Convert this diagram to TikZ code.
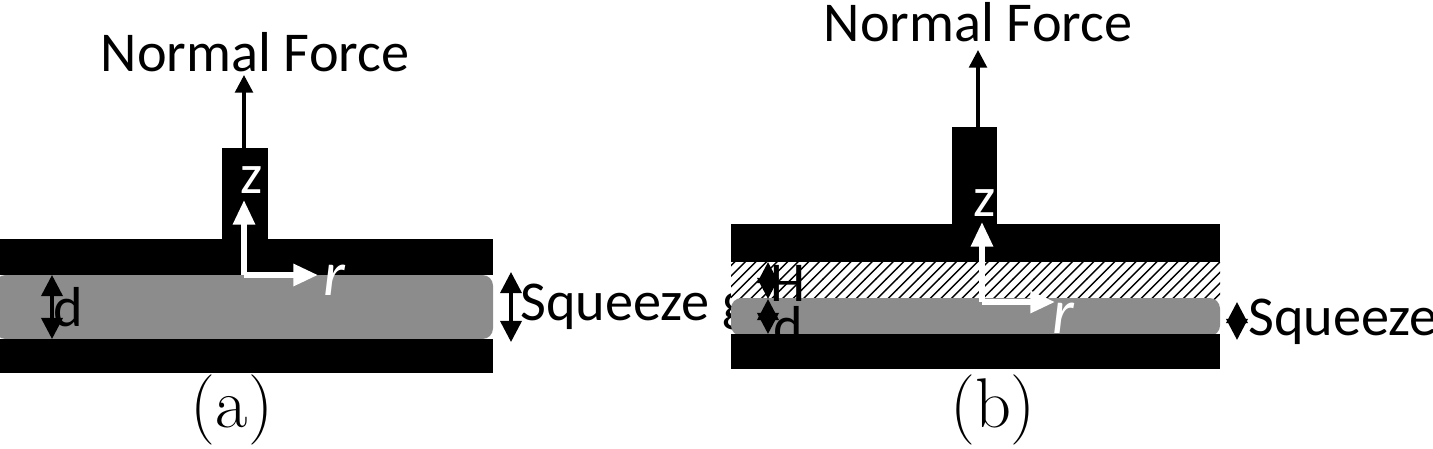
\documentclass[tikz,border=0pt]{standalone}
\usepackage{fontspec}
\newfontfamily\carl{Carlito}
\usetikzlibrary{arrows.meta,patterns}
\begin{document}
\begin{tikzpicture}[x=0.01cm,y=-0.01cm,
 plate/.style={fill=black,draw=none},
 fluid/.style={fill=black!45,draw=none,rounded corners=3pt},
 blk/.style={-{Triangle[width=5pt,length=5pt]},line width=1pt},
 wht/.style={-{Triangle[width=6pt,length=7pt]},line width=1.6pt,white},
 dim/.style={{Triangle[width=6pt,length=6pt]}-{Triangle[width=6pt,length=6pt]},line width=1pt},
 lbl/.style={font=\carl\fontsize{16}{18}\selectfont,inner sep=1pt},
 wlbl/.style={lbl,text=white,font=\carl\itshape\fontsize{18}{20}\selectfont},
 subcap/.style={font=\fontsize{20}{24}\selectfont}]
\useasboundingbox (0,0) rectangle (1433,448);
% panel a
\fill[fluid] (-5,275) rectangle (493,339);
\fill[plate] (0,239) rectangle (493,275);
\fill[plate] (222,148) rectangle (268,239);
\fill[plate] (0,339) rectangle (493,373);
\coordinate (a0) at (244,275);
\coordinate (af) at (244,148);
\node[lbl] (anf) at (255,52) {Normal Force};
\draw[blk] (af) -- (244,75);
\coordinate (az) at (244,200);
\coordinate (ar) at (318,275);
\draw[wht] (a0) -- (az);
\draw[wht] (a0) -- (ar);
\node[lbl,text=white] (azl) at (252,180) {z};
\node[wlbl] (arl) at (334,280) {r};
\coordinate (ad1) at (52,275); \coordinate (ad2) at (52,339);
\draw[dim] (ad1) -- (ad2);
\node[lbl] (adl) at (68,307) {d};
\coordinate (as1) at (511,272); \coordinate (as2) at (511,342);
\draw[dim] (as1) -- (as2);
\node[lbl,anchor=west] (asl) at (516,307) {Squeeze gap};
\node[subcap] (capa) at (232,410) {(a)};
% panel b
\fill[white] (731,262) rectangle (1220,299);
\fill[pattern=north east lines] (731,262) rectangle (1220,299);
\fill[fluid] (731,298) rectangle (1220,336);
\fill[plate] (731,224) rectangle (1220,262);
\fill[plate] (952,127) rectangle (997,224);
\fill[plate] (731,334) rectangle (1220,369);
\coordinate (b0) at (982,302);
\coordinate (bf) at (978,127);
\node[lbl] (bnf) at (978,22) {Normal Force};
\draw[blk] (bf) -- (978,50);
\coordinate (bz) at (982,222);
\coordinate (br) at (1055,302);
\draw[wht] (b0) -- (bz);
\draw[wht] (b0) -- (br);
\node[lbl,text=white] (bzl) at (985,203) {z};
\node[wlbl] (brl) at (1063,318) {r};
\coordinate (bh1) at (768,262); \coordinate (bh2) at (768,299); \coordinate (bh3) at (768,334);
\draw[dim] (bh1) -- (bh2);
\draw[dim] (bh2) -- (bh3);
\node[lbl] (bhl) at (788,283) {H};
\node[lbl] (bdl) at (788,326) {d};
\coordinate (bs1) at (1237,302); \coordinate (bs2) at (1237,340);
\draw[dim] (bs1) -- (bs2);
\node[lbl,anchor=west] (bsl) at (1244,322) {Squeeze gap};
\node[subcap] (capb) at (993,410) {(b)};
\end{tikzpicture}
\end{document}
